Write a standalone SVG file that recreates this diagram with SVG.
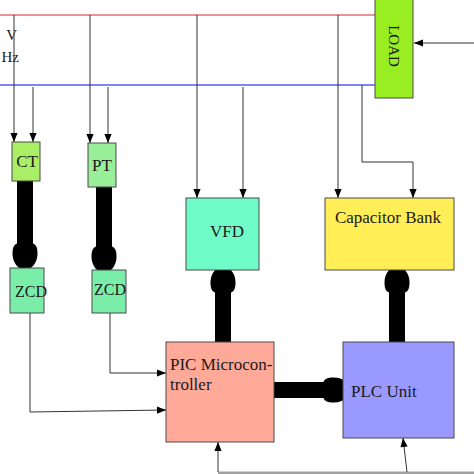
<svg xmlns="http://www.w3.org/2000/svg" width="474" height="474" viewBox="0 0 474 474">
<style>
.box{stroke:#4a4a4a;stroke-width:1}
.t{font-family:"Liberation Serif","Times New Roman",serif;font-size:17px;fill:#1a1a1a}
.w{fill:none;stroke:#333;stroke-width:1;marker-end:url(#a)}
.big{fill:none;stroke:#000;stroke-width:16;marker-end:url(#b)}
</style>
<defs>
<marker id="a" markerUnits="userSpaceOnUse" viewBox="-10 -5 11 10" markerWidth="11" markerHeight="10" refX="0" refY="0" orient="auto">
<path d="M0,0 L-9,-3.6 L-9,3.6 Z" fill="#000"/>
</marker>
<marker id="b" markerUnits="userSpaceOnUse" viewBox="-17 -14 32 28" markerWidth="32" markerHeight="28" refX="0" refY="0" orient="auto" overflow="visible">
<path d="M-15,-5 C-15,-11 -11,-12.5 -4,-12.5 C5,-12.5 12,-6 12,0 C12,6 5,12.5 -4,12.5 C-11,12.5 -15,11 -15,5 Z" fill="#000"/>
</marker>
</defs>
<rect width="474" height="474" fill="#fff"/>
<g id="supply">
<line x1="0" y1="15" x2="375" y2="15" stroke="#e07078" stroke-width="1.6"/>
<line x1="0" y1="85" x2="378" y2="85" stroke="#5a5af0" stroke-width="1.4"/>
<text class="t" x="17" y="40" text-anchor="end" style="font-size:15px">V</text>
<text class="t" x="19" y="62" text-anchor="end" style="font-size:15px">Hz</text>
</g>
<g id="connectors">
<path class="w" d="M14,15 V142"/>
<path class="w" d="M33,87 V142"/>
<path class="w" d="M90,15 V143"/>
<path class="w" d="M108,87 V143"/>
<path class="w" d="M197,15 V198"/>
<path class="w" d="M243,87 V198"/>
<path class="w" d="M338,15 V198"/>
<path class="w" d="M362,85 V162 H413 V198"/>
<path class="w" d="M474,43 H414"/>
<path class="w" d="M30,313 V412 L166,410"/>
<path class="w" d="M110,313 V373 H166"/>
<line x1="218" y1="473" x2="474" y2="473" stroke="#a0a0a0" stroke-width="3"/>
<path class="w" d="M218,472 V442"/>
<path class="w" d="M407,472 L403,438"/>
<path class="big" d="M25,181 V258"/>
<path class="big" d="M104,187 V261"/>
<path class="big" d="M223,342 V278"/>
<path class="big" d="M397,342 V278"/>
<path class="big" d="M274,390 H338"/>
</g>
<g id="load">
<rect class="box" x="375" y="-1" width="38" height="99" fill="#99ee22"/>
<text class="t" transform="translate(389,46) rotate(90)" text-anchor="middle" style="font-size:15px">LOAD</text>
</g>
<g id="ct">
<rect class="box" x="12" y="142" width="28" height="39" fill="#aaee66"/>
<text class="t" x="27" y="167" text-anchor="middle">CT</text>
</g>
<g id="pt">
<rect class="box" x="88" y="143" width="28" height="44" fill="#99ee99"/>
<text class="t" x="102" y="171" text-anchor="middle">PT</text>
</g>
<g id="zcd1">
<rect class="box" x="10" y="268" width="34" height="45" fill="#7aeea8"/>
<text class="t" x="31" y="297" text-anchor="middle" style="font-size:16px">ZCD</text>
</g>
<g id="zcd2">
<rect class="box" x="92" y="270" width="34" height="43" fill="#7aeea8"/>
<text class="t" x="110" y="295" text-anchor="middle" style="font-size:16px">ZCD</text>
</g>
<g id="vfd">
<rect class="box" x="186" y="198" width="73" height="72" fill="#70fcc8"/>
<text class="t" x="227" y="237" text-anchor="middle">VFD</text>
</g>
<g id="capbank">
<rect class="box" x="325" y="198" width="129" height="72" fill="#ffee55"/>
<text class="t" x="388" y="223" text-anchor="middle">Capacitor Bank</text>
</g>
<g id="pic">
<rect class="box" x="166" y="342" width="108" height="100" fill="#ffaa99"/>
<text class="t" x="170" y="370">PIC Microcon-</text>
<text class="t" x="170" y="390">troller</text>
</g>
<g id="plc">
<rect class="box" x="343" y="342" width="111" height="96" fill="#9999ff"/>
<text class="t" x="351" y="397">PLC Unit</text>
</g>
</svg>
